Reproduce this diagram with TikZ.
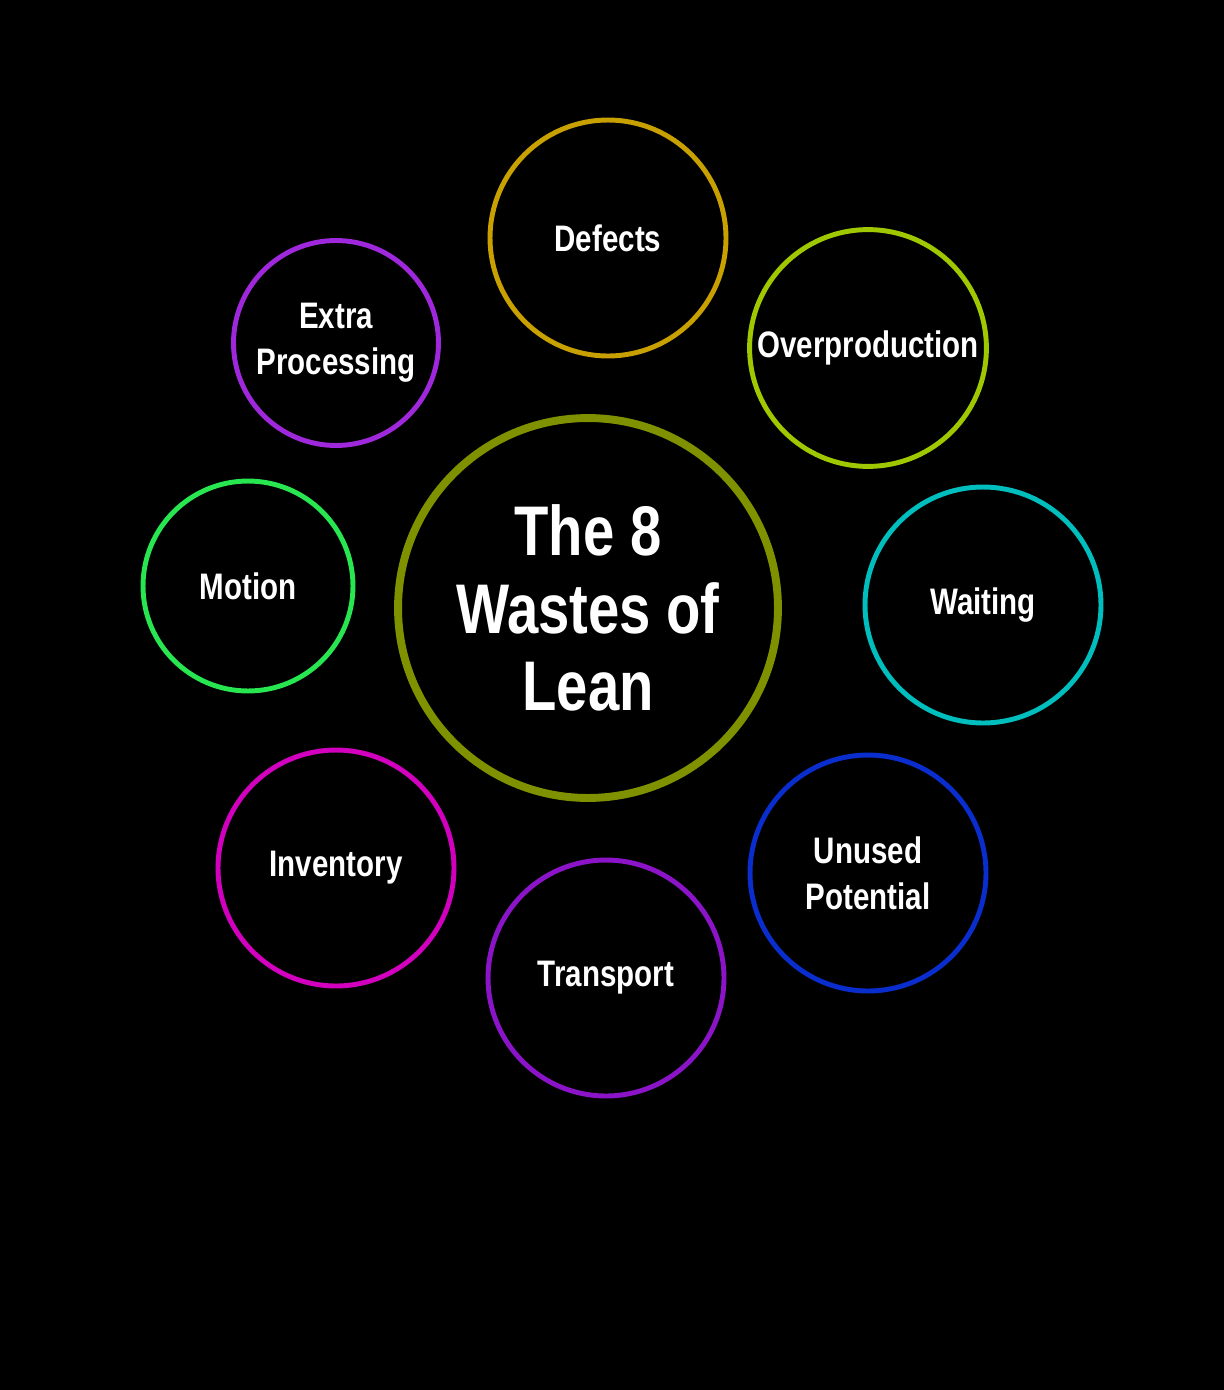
\documentclass[tikz,border=0pt]{standalone}
\usepackage{fontspec}
\setmainfont[FakeStretch=0.8]{Liberation Sans}
\usetikzlibrary{positioning}
\definecolor{hubcol}{RGB}{128,145,0}
\definecolor{defcol}{RGB}{200,160,0}
\definecolor{ovcol}{RGB}{160,200,0}
\definecolor{waitcol}{RGB}{0,190,190}
\definecolor{unucol}{RGB}{10,45,205}
\definecolor{trancol}{RGB}{140,20,200}
\definecolor{invcol}{RGB}{210,0,190}
\definecolor{motcol}{RGB}{40,230,80}
\definecolor{extcol}{RGB}{160,40,220}
\tikzset{waste/.style={circle, draw=#1, line width=2.8pt, minimum size=4.72cm,
    text=white, align=center, font=\bfseries\fontsize{21}{26}\selectfont}}
\tikzset{hub/.style={circle, draw=hubcol, line width=4.5pt, minimum size=7.6cm,
    text=white, align=center, font=\bfseries\fontsize{40}{44}\selectfont}}
\begin{document}
\begin{tikzpicture}[x=0.02cm, y=-0.02cm]
  \fill[black] (0,0) rectangle (1224,1390);
  \useasboundingbox (0,0) rectangle (1224,1390);

  \node[hub] (lean) at (588,608) {The 8\\Wastes of\\Lean};

  \node[waste=defcol] (defects) at (608,238) {Defects};
  \node[waste=ovcol] (overprod) at (868,348) {Overproduction};
  \node[waste=waitcol] (waiting) at (983,605) {Waiting};
  \node[waste=unucol] (unused) at (868,873) {Unused\\Potential};
  \node[waste=trancol] (transport) at (606,978) {Transport};
  \node[waste=invcol] (inventory) at (336,868) {Inventory};
  \node[waste=motcol, minimum size=4.2cm] (motion) at (248,586) {Motion};
  \node[waste=extcol, minimum size=4.1cm] (extra) at (336,343) {Extra\\Processing};
\end{tikzpicture}
\end{document}
